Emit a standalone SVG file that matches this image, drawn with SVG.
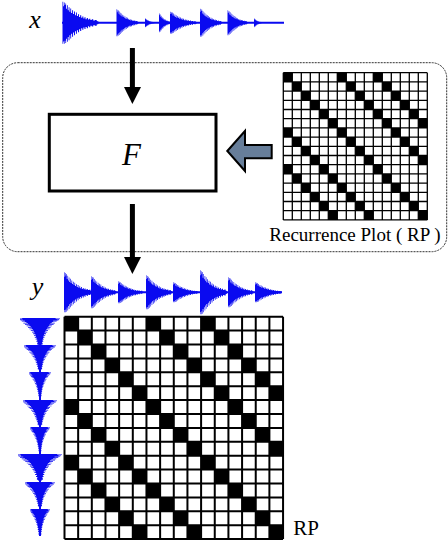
<svg xmlns="http://www.w3.org/2000/svg" xmlns:xlink="http://www.w3.org/1999/xlink" width="448" height="540" viewBox="0 0 448 540">
<style>
.wave{fill:#0a0af0}
.base{stroke:#0a0af0;stroke-width:2;fill:none}
.math{font-family:"Liberation Serif","DejaVu Serif",serif;font-style:italic;fill:#000}
.lbl{font-family:"Liberation Serif","DejaVu Serif",serif;fill:#000}
.conn{stroke:#000;stroke-width:5;fill:none}
.head{fill:#000}
</style>
<defs>
<path id="burst" d="M0,0 L0,-10 L0.6,-10 L0.6,-7.8 L1.2,-7.8 L1.2,-9.6 L1.8,-9.6 L1.8,-8.4 L2.4,-8.4 L2.4,-9.2 L3,-9.2 L3,-6.6 L3.7,-6.6 L3.7,-8.3 L4.4,-8.3 L4.4,-5.9 L5.1,-5.9 L5.1,-7.4 L5.8,-7.4 L5.8,-5.2 L6.5,-5.2 L6.5,-6.8 L7.2,-6.8 L7.2,-4.6 L8,-4.6 L8,-5.9 L8.8,-5.9 L8.8,-4.2 L9.6,-4.2 L9.6,-5.3 L10.4,-5.3 L10.4,-3.6 L11.2,-3.6 L11.2,-4.8 L12,-4.8 L12,-3.2 L12.9,-3.2 L12.9,-4 L13.8,-4 L13.8,-2.7 L14.7,-2.7 L14.7,-3.6 L15.6,-3.6 L15.6,-2.3 L16.5,-2.3 L16.5,-3 L17.4,-3 L17.4,-2 L18.3,-2 L18.3,-2.6 L19.2,-2.6 L19.2,-1.7 L20.2,-1.7 L20.2,-2.2 L21.2,-2.2 L21.2,-1.5 L22.2,-1.5 L22.2,-1.9 L23.2,-1.9 L23.2,-1.3 L24.4,-1.3 L24.4,-1.6 L25.6,-1.6 L25.6,-1.1 L27,-1.1 L27,-1.3 L28.5,-1.3 L28.5,-0.8 L30,-0.6
L30,0.6 L28.5,0.9 L28.5,1.4 L27,1.4 L27,1.2 L25.6,1.2 L25.6,1.8 L24.4,1.8 L24.4,1.4 L23.2,1.4 L23.2,2.2 L22.2,2.2 L22.2,1.7 L21.2,1.7 L21.2,2.6 L20.2,2.6 L20.2,2 L19.2,2 L19.2,3 L18.3,3 L18.3,2.3 L17.4,2.3 L17.4,3.4 L16.5,3.4 L16.5,2.7 L15.6,2.7 L15.6,4 L14.7,4 L14.7,3.1 L13.8,3.1 L13.8,4.6 L12.9,4.6 L12.9,3.6 L12,3.6 L12,5.3 L11.2,5.3 L11.2,4.1 L10.4,4.1 L10.4,6 L9.6,6 L9.6,4.7 L8.8,4.7 L8.8,6.7 L8,6.7 L8,5.3 L7.2,5.3 L7.2,7.5 L6.5,7.5 L6.5,6 L5.8,6 L5.8,8.3 L5.1,8.3 L5.1,6.8 L4.4,6.8 L4.4,9.1 L3.7,9.1 L3.7,7.6 L3,7.6 L3,9.7 L2.4,9.7 L2.4,8.6 L1.8,8.6 L1.8,10 L1.2,10 L1.2,8.9 L0.6,8.9 L0.6,10 L0,10 Z"/>
<g id="ywave">
<line class="base" x1="0" y1="0" x2="218" y2="0"/>
<use xlink:href="#burst" class="wave" transform="translate(0,0) scale(0.93,2.0)"/>
<use xlink:href="#burst" class="wave" transform="translate(27,0) scale(0.85,1.6)"/>
<use xlink:href="#burst" class="wave" transform="translate(54,0) scale(0.85,1.1)"/>
<use xlink:href="#burst" class="wave" transform="translate(82,0) scale(0.87,1.7)"/>
<use xlink:href="#burst" class="wave" transform="translate(109,0) scale(0.85,1.0)"/>
<use xlink:href="#burst" class="wave" transform="translate(136,0) scale(0.9,2.2)"/>
<use xlink:href="#burst" class="wave" transform="translate(164,0) scale(0.85,1.5)"/>
<use xlink:href="#burst" class="wave" transform="translate(191,0) scale(0.9,1.0)"/>
</g>
<g id="rp">
<rect x="0" y="0" width="16" height="16" fill="#fff"/>
<path fill="#000" d="M0 0h1v1h-1z M1 1h1v1h-1z M2 2h1v1h-1z M3 3h1v1h-1z M4 4h1v1h-1z M5 5h1v1h-1z M6 6h1v1h-1z M7 7h1v1h-1z M8 8h1v1h-1z M9 9h1v1h-1z M10 10h1v1h-1z M11 11h1v1h-1z M12 12h1v1h-1z M13 13h1v1h-1z M14 14h1v1h-1z M15 15h1v1h-1z
M6 0h1v1h-1z M7 1h1v1h-1z M8 2h1v1h-1z M9 3h1v1h-1z M10 4h1v1h-1z M11 5h1v1h-1z M12 6h1v1h-1z M13 7h1v1h-1z M14 8h1v1h-1z M15 9h1v1h-1z
M10 0h1v1h-1z M11 1h1v1h-1z M12 2h1v1h-1z M13 3h1v1h-1z M14 4h1v1h-1z M15 5h1v1h-1z
M0 6h1v1h-1z M1 7h1v1h-1z M2 8h1v1h-1z M3 9h1v1h-1z M4 10h1v1h-1z M5 11h1v1h-1z M6 12h1v1h-1z M7 13h1v1h-1z M8 14h1v1h-1z M9 15h1v1h-1z
M0 10h1v1h-1z M1 11h1v1h-1z M2 12h1v1h-1z M3 13h1v1h-1z M4 14h1v1h-1z M5 15h1v1h-1z"/>
<path fill="none" stroke="#000" vector-effect="non-scaling-stroke" d="M0 0H16M0 1H16M0 2H16M0 3H16M0 4H16M0 5H16M0 6H16M0 7H16M0 8H16M0 9H16M0 10H16M0 11H16M0 12H16M0 13H16M0 14H16M0 15H16M0 16H16 M0 0V16M1 0V16M2 0V16M3 0V16M4 0V16M5 0V16M6 0V16M7 0V16M8 0V16M9 0V16M10 0V16M11 0V16M12 0V16M13 0V16M14 0V16M15 0V16M16 0V16"/>
</g>
</defs>
<rect width="448" height="540" fill="#fff"/>

<g id="frame">
<rect x="2.7" y="62.7" width="444" height="189" rx="15" ry="15" fill="none" stroke="#333" stroke-width="1" stroke-dasharray="2 1"/>
</g>

<g id="node-x">
<text class="math" x="35" y="28.3" font-size="26" text-anchor="middle">x</text>
<line class="base" x1="62" y1="22.7" x2="284" y2="22.7"/>
<use xlink:href="#burst" class="wave" transform="translate(62.5,22.7) scale(1.2,2.1)"/>
<use xlink:href="#burst" class="wave" transform="translate(116.5,22.7) scale(0.73,1.35)"/>
<use xlink:href="#burst" class="wave" transform="translate(145,22.7) scale(0.33,0.45)"/>
<use xlink:href="#burst" class="wave" transform="translate(159,22.7) scale(0.4,0.95)"/>
<use xlink:href="#burst" class="wave" transform="translate(170,22.7) scale(0.9,1.1)"/>
<use xlink:href="#burst" class="wave" transform="translate(200,22.7) scale(0.73,1.4)"/>
<use xlink:href="#burst" class="wave" transform="translate(227.5,22.7) scale(0.67,1.25)"/>
<use xlink:href="#burst" class="wave" transform="translate(254,22.7) scale(0.27,0.45)"/>
</g>

<g id="node-F">
<rect x="49.3" y="114.3" width="166.7" height="76.7" fill="#fff" stroke="#000" stroke-width="3"/>
<text class="math" x="131.5" y="165" font-size="31" text-anchor="middle">F</text>
</g>

<g id="node-RP-small">
<use xlink:href="#rp" stroke-width="1.3" transform="translate(283.3,72.7) scale(9,9.2)"/>
<text class="lbl" x="269.3" y="241" font-size="19">Recurrence Plot ( RP )</text>
</g>

<g id="node-y">
<text class="math" x="37.5" y="295" font-size="26" text-anchor="middle">y</text>
<use xlink:href="#ywave" transform="translate(64,292.3)"/>
<use xlink:href="#ywave" transform="translate(40,318) rotate(90)"/>
</g>

<g id="node-RP-big">
<use xlink:href="#rp" stroke-width="2" transform="translate(64.5,316.7) scale(13.66,13.9)"/>
<text class="lbl" x="293.3" y="535" font-size="21">RP</text>
</g>

<g id="connectors">
<line class="conn" x1="132.4" y1="48" x2="132.4" y2="90"/>
<polygon class="head" points="124,87 141,87 132.4,104"/>
<line class="conn" x1="132.4" y1="204" x2="132.4" y2="260"/>
<polygon class="head" points="124,257 141,257 132.4,274"/>
<polygon points="227.3,151 245,131 245,145 271.7,145 271.7,158.3 245,158.3 245,171" fill="#677e9a" stroke="#000" stroke-width="2" stroke-linejoin="miter"/>
</g>
</svg>
